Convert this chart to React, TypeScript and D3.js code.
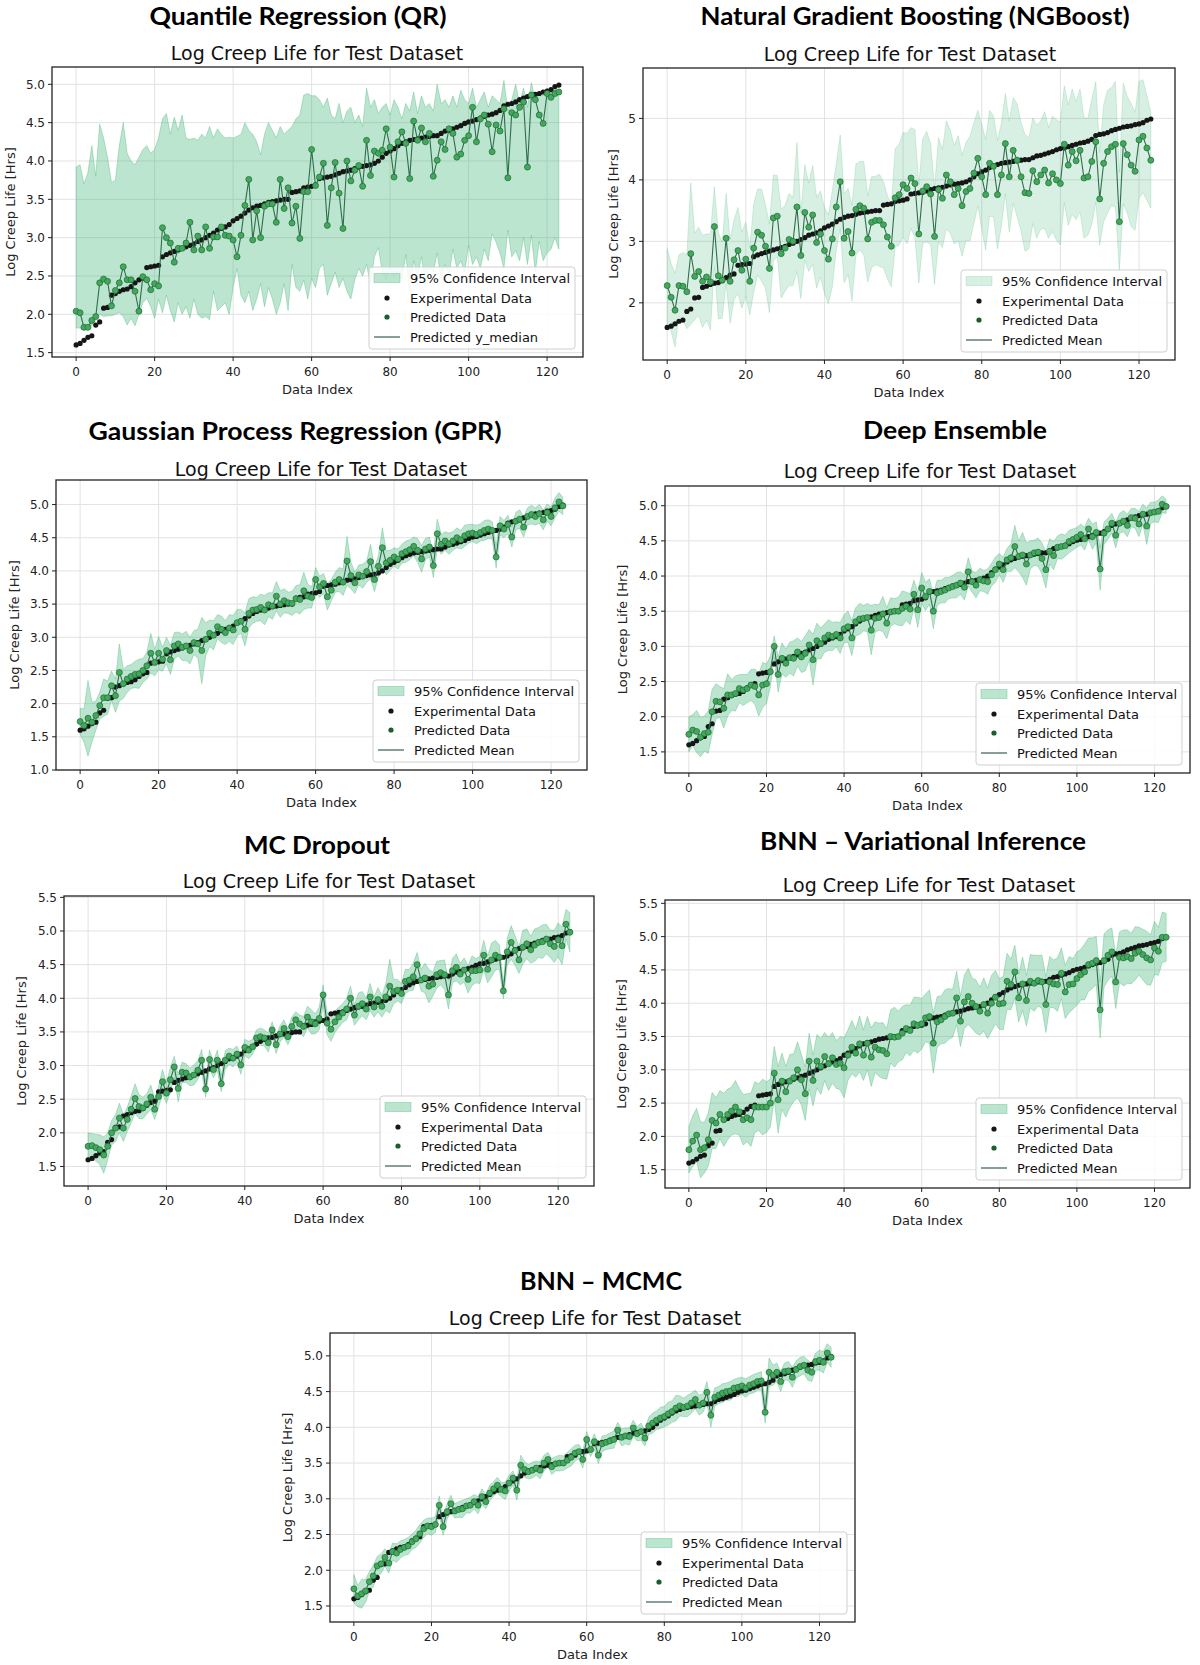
import React, { useEffect } from "react";
import * as d3 from "d3";

// ---------------- DATA ----------------
const DATA_INDEX = d3.range(124);
const X_TICKS = [0, 20, 40, 60, 80, 100, 120];

const EXPERIMENTAL = [
  1.60,1.62,1.66,1.70,1.72,1.86,1.90,2.08,2.09,2.25,
  2.27,2.30,2.32,2.33,2.36,2.41,2.45,2.47,2.61,2.62,
  2.63,2.64,2.75,2.78,2.80,2.82,2.84,2.86,2.88,2.90,
  2.92,2.95,2.97,3.00,3.03,3.06,3.10,3.12,3.14,3.17,
  3.22,3.25,3.28,3.32,3.36,3.39,3.41,3.42,3.44,3.46,
  3.47,3.48,3.49,3.50,3.50,3.59,3.60,3.61,3.65,3.66,
  3.67,3.69,3.77,3.78,3.79,3.80,3.82,3.84,3.86,3.87,
  3.88,3.90,3.92,3.93,3.94,3.95,3.97,4.00,4.05,4.10,
  4.13,4.16,4.20,4.23,4.25,4.27,4.28,4.29,4.30,4.31,
  4.32,4.33,4.33,4.36,4.39,4.40,4.42,4.44,4.46,4.49,
  4.51,4.52,4.54,4.56,4.58,4.60,4.61,4.63,4.66,4.72,
  4.74,4.75,4.77,4.80,4.82,4.84,4.86,4.87,4.88,4.90,
  4.91,4.93,4.97,4.99,
];

// Quantile Regression
const QR_PRED = [
  2.04,2.02,1.83,1.83,1.92,1.97,2.41,2.46,2.43,2.11,
  2.31,2.41,2.62,2.45,2.45,2.30,2.04,2.49,2.45,2.32,
  2.40,2.37,3.13,3.00,2.93,2.68,2.86,2.86,2.93,3.20,
  2.84,3.02,2.84,3.14,2.86,3.01,3.01,3.14,3.03,3.02,
  2.97,2.75,3.03,3.42,3.76,2.97,3.35,3.00,3.41,3.44,
  3.44,3.20,3.76,3.38,3.65,3.19,3.41,2.99,3.60,3.60,
  4.15,3.68,3.79,3.97,3.16,3.65,3.98,3.58,3.12,4.00,
  3.74,3.88,3.94,3.67,4.27,3.81,4.13,4.10,4.14,4.42,
  4.18,3.79,4.25,4.38,4.23,3.77,4.52,4.27,4.43,4.25,
  4.36,3.80,4.01,4.25,4.15,4.42,4.36,4.05,4.09,4.27,
  4.33,4.70,4.25,4.55,4.60,4.48,4.12,4.47,4.39,4.68,
  3.78,4.63,4.60,4.70,4.77,3.92,4.86,4.80,4.60,4.49,
  4.88,4.83,4.88,4.90,
];
const QR_UPPER = [
  3.92,3.95,3.70,3.85,4.20,3.80,4.48,4.30,4.05,3.72,
  3.75,4.20,4.50,4.10,4.00,3.95,4.05,4.15,4.20,4.10,
  4.15,4.30,4.55,4.62,4.35,4.57,4.40,4.60,4.30,4.28,
  4.30,4.27,4.35,4.30,4.45,4.30,4.42,4.35,4.30,4.31,
  4.30,4.32,4.35,4.50,4.40,4.35,4.25,4.08,4.35,4.50,
  4.40,4.30,4.45,4.35,4.40,4.45,4.55,4.60,4.86,4.88,
  4.85,4.85,4.80,4.70,4.82,4.60,4.55,4.75,4.50,4.65,
  4.70,4.50,4.60,4.45,4.95,4.70,4.80,4.62,4.70,4.75,
  4.60,4.80,4.70,4.55,4.75,4.65,4.90,4.62,4.85,4.70,
  4.75,4.65,5.00,4.75,4.80,4.70,4.85,4.70,4.92,4.80,
  4.75,4.95,4.70,4.80,4.90,4.70,4.85,4.80,4.75,5.05,
  4.65,4.80,5.00,4.75,4.95,4.70,5.02,4.80,4.90,4.85,
  4.95,4.90,4.95,4.90,
];
const QR_LOWER = [
  1.82,1.82,1.80,1.82,1.85,1.95,2.00,1.97,1.98,1.98,
  2.00,2.02,1.97,1.86,1.95,1.85,2.00,2.15,2.21,2.10,
  1.95,2.20,2.02,2.25,2.05,1.90,2.15,2.00,2.10,1.95,
  2.20,2.00,1.95,1.97,1.93,2.30,2.05,2.10,2.15,2.00,
  2.35,2.60,2.25,2.15,2.30,2.05,2.20,2.40,2.10,2.35,
  2.20,2.00,2.15,2.40,2.05,2.65,2.35,2.30,2.45,2.20,
  2.47,2.35,2.60,2.65,2.25,2.40,2.55,2.35,2.47,2.30,
  2.20,2.45,2.60,2.50,2.65,2.40,2.75,2.87,2.55,2.45,
  2.60,2.47,2.55,2.45,2.78,2.30,2.70,2.50,2.75,2.40,
  2.60,2.55,2.80,2.45,2.65,2.50,2.85,2.60,2.70,2.55,
  2.90,2.65,2.75,2.60,2.85,2.70,3.05,2.94,2.80,2.60,
  3.10,2.75,2.83,2.70,3.00,2.65,3.03,2.55,2.95,2.70,
  2.80,2.85,3.00,2.85,
];

// NGBoost
const NGB_PRED = [
  2.28,2.09,1.88,2.28,2.27,2.18,2.80,2.43,2.51,2.35,
  2.42,2.34,3.24,2.44,2.37,3.05,2.35,2.70,2.85,2.53,
  2.71,2.35,2.89,3.15,3.10,2.92,2.56,3.38,3.41,2.80,
  2.89,3.03,3.00,3.56,2.77,3.47,3.23,3.43,2.98,3.12,
  2.85,2.71,3.04,3.56,3.97,3.05,3.16,2.81,3.52,3.58,
  3.54,3.04,3.31,3.34,3.34,3.27,3.07,2.92,3.71,3.76,
  3.92,3.86,4.03,3.94,3.12,3.82,3.89,3.77,3.08,3.84,
  3.70,4.08,3.97,3.76,3.86,3.58,3.81,3.86,4.11,4.35,
  4.05,3.76,4.27,4.22,3.76,4.08,4.59,4.05,4.48,4.32,
  4.05,3.79,3.78,4.15,3.97,4.08,4.16,3.95,4.10,4.00,
  3.94,4.58,4.24,4.46,4.31,4.48,4.03,4.05,4.30,4.62,
  3.69,4.27,4.46,4.54,4.58,3.32,4.59,4.41,4.24,4.14,
  4.65,4.71,4.52,4.32,
];
const NGB_HALF_WIDTH = [
  0.60,0.55,0.60,0.50,0.55,0.60,1.15,0.70,0.72,0.75,
  0.70,0.78,0.65,0.70,0.62,0.73,0.68,0.65,0.70,0.62,
  0.60,0.55,0.72,0.70,0.75,0.68,0.72,0.70,0.66,0.72,
  0.70,0.75,0.72,1.05,0.70,0.78,0.72,0.80,0.74,0.70,
  0.70,0.72,0.78,0.70,0.76,0.72,0.70,0.78,0.74,0.72,
  0.76,0.70,0.74,0.72,0.75,0.70,0.68,0.66,0.80,0.82,
  0.85,0.90,0.82,0.88,0.80,0.85,0.90,0.82,0.78,0.85,
  0.80,0.88,0.84,0.80,0.86,0.82,0.80,0.85,0.82,0.78,
  0.85,0.90,0.86,0.82,0.88,0.84,0.82,0.90,0.86,0.92,
  0.88,0.95,0.90,0.86,0.92,0.88,0.95,0.90,0.94,0.98,
  1.00,0.95,0.98,1.02,0.96,1.00,0.98,0.95,1.02,0.98,
  0.75,0.95,1.00,0.96,1.02,0.80,0.98,0.95,1.00,0.96,
  0.95,0.92,0.85,0.78,
];

// Gaussian Process Regression
const GPR_PRED = [
  1.73,1.67,1.78,1.72,1.82,1.97,2.09,2.09,2.27,2.12,
  2.47,2.30,2.37,2.41,2.44,2.45,2.50,2.57,2.76,2.62,
  2.76,2.67,2.80,2.66,2.87,2.90,2.85,2.87,2.80,2.92,
  2.90,2.80,2.97,3.06,3.03,3.16,3.12,3.07,3.14,3.11,
  3.22,3.24,3.12,3.36,3.41,3.42,3.45,3.41,3.49,3.47,
  3.62,3.50,3.55,3.52,3.51,3.58,3.57,3.70,3.62,3.60,
  3.87,3.76,3.81,3.61,3.71,3.83,3.87,3.83,4.15,3.93,
  3.82,3.94,3.92,3.99,4.14,3.87,4.07,4.35,4.12,4.16,
  4.21,4.18,4.26,4.29,4.32,4.37,4.31,4.18,4.33,4.36,
  4.08,4.56,4.40,4.45,4.41,4.45,4.50,4.47,4.53,4.56,
  4.57,4.55,4.58,4.61,4.63,4.61,4.21,4.68,4.63,4.70,
  4.51,4.75,4.78,4.66,4.82,4.85,4.82,4.86,4.77,4.88,
  4.82,4.95,5.04,4.98,
];
const GPR_HALF_WIDTH = [
  0.20,0.25,0.57,0.30,0.22,0.20,0.28,0.25,0.22,0.25,
  0.43,0.22,0.20,0.18,0.20,0.22,0.18,0.20,0.30,0.20,
  0.25,0.18,0.20,0.22,0.20,0.18,0.20,0.22,0.20,0.18,
  0.22,0.50,0.25,0.20,0.22,0.18,0.20,0.18,0.20,0.22,
  0.20,0.18,0.25,0.22,0.20,0.18,0.20,0.22,0.18,0.20,
  0.22,0.20,0.18,0.16,0.18,0.20,0.22,0.28,0.18,0.16,
  0.18,0.16,0.15,0.20,0.16,0.15,0.18,0.20,0.37,0.20,
  0.16,0.15,0.18,0.16,0.26,0.18,0.16,0.30,0.18,0.15,
  0.14,0.15,0.14,0.16,0.15,0.14,0.18,0.20,0.16,0.15,
  0.18,0.22,0.15,0.14,0.16,0.14,0.15,0.14,0.16,0.14,
  0.13,0.14,0.13,0.15,0.14,0.13,0.17,0.14,0.13,0.14,
  0.15,0.13,0.14,0.15,0.13,0.14,0.13,0.14,0.15,0.13,
  0.14,0.15,0.14,0.13,
];

// Deep Ensemble
const DE_PRED = [
  1.75,1.81,1.79,1.71,1.76,1.78,2.07,2.22,2.21,2.12,
  2.31,2.31,2.33,2.40,2.38,2.40,2.45,2.43,2.31,2.45,
  2.47,2.64,3.00,2.60,2.83,2.76,2.84,2.83,2.92,2.85,
  2.90,3.02,2.81,3.08,3.04,3.12,3.16,3.14,3.17,3.12,
  3.25,3.28,3.12,3.35,3.39,3.40,3.41,3.23,3.40,3.41,
  3.46,3.33,3.49,3.50,3.50,3.54,3.57,3.53,3.74,3.52,
  3.83,3.71,3.78,3.50,3.76,3.78,3.80,3.83,3.85,3.87,
  3.90,3.84,4.06,3.92,3.87,3.95,3.93,3.92,4.02,4.09,
  4.17,4.09,4.23,4.26,4.42,4.28,4.30,4.17,4.30,4.33,
  4.34,4.25,4.09,4.35,4.29,4.41,4.42,4.43,4.49,4.52,
  4.55,4.59,4.53,4.67,4.56,4.62,4.10,4.61,4.67,4.75,
  4.58,4.75,4.78,4.72,4.83,4.82,4.74,4.88,4.71,4.90,
  4.91,4.92,5.02,4.99,
];
const DE_HALF_WIDTH = [
  0.25,0.22,0.30,0.28,0.25,0.30,0.32,0.25,0.22,0.28,
  0.30,0.22,0.25,0.20,0.22,0.20,0.22,0.25,0.30,0.32,
  0.28,0.22,0.15,0.25,0.22,0.20,0.22,0.25,0.20,0.22,
  0.25,0.22,0.36,0.25,0.22,0.20,0.22,0.20,0.18,0.22,
  0.20,0.22,0.25,0.20,0.22,0.18,0.20,0.35,0.20,0.18,
  0.25,0.22,0.20,0.18,0.20,0.25,0.20,0.22,0.20,0.25,
  0.22,0.20,0.18,0.25,0.18,0.16,0.18,0.15,0.16,0.18,
  0.16,0.18,0.20,0.15,0.18,0.16,0.15,0.18,0.16,0.18,
  0.15,0.18,0.16,0.20,0.30,0.22,0.32,0.30,0.20,0.18,
  0.20,0.22,0.26,0.18,0.20,0.16,0.18,0.15,0.16,0.15,
  0.14,0.15,0.16,0.15,0.18,0.15,0.30,0.16,0.15,0.14,
  0.18,0.14,0.15,0.16,0.13,0.14,0.18,0.14,0.26,0.15,
  0.14,0.16,0.12,0.10,
];

// MC Dropout
const MC_PRED = [
  1.80,1.81,1.78,1.75,1.67,1.80,2.00,2.07,2.22,2.07,
  2.20,2.35,2.51,2.39,2.37,2.43,2.53,2.35,2.54,2.76,
  2.59,2.79,2.98,2.66,2.90,2.89,2.83,2.86,2.93,3.08,
  2.65,3.09,2.94,3.08,2.73,3.08,3.14,3.11,3.17,3.01,
  3.27,3.23,3.28,3.41,3.43,3.41,3.34,3.53,3.31,3.47,
  3.55,3.43,3.58,3.68,3.62,3.58,3.72,3.65,3.62,3.70,
  4.05,3.63,3.54,3.65,3.72,3.78,3.84,4.00,3.75,3.88,
  3.92,3.84,4.02,3.87,3.98,3.88,4.02,4.18,4.10,4.12,
  4.07,4.25,4.27,4.32,4.50,4.27,4.30,4.18,4.21,4.35,
  4.38,4.35,4.05,4.41,4.46,4.36,4.42,4.28,4.41,4.41,
  4.42,4.64,4.43,4.57,4.64,4.61,4.11,4.69,4.83,4.71,
  4.57,4.76,4.81,4.72,4.79,4.83,4.84,4.88,4.81,4.77,
  4.87,4.78,5.10,4.98,
];
const MC_HALF_WIDTH = [
  0.20,0.18,0.20,0.22,0.27,0.20,0.18,0.20,0.22,0.20,
  0.18,0.20,0.22,0.18,0.16,0.15,0.18,0.15,0.16,0.18,
  0.15,0.18,0.16,0.20,0.15,0.14,0.13,0.15,0.14,0.16,
  0.12,0.14,0.12,0.15,0.12,0.14,0.12,0.13,0.12,0.14,
  0.12,0.13,0.11,0.12,0.13,0.12,0.14,0.12,0.13,0.12,
  0.13,0.12,0.14,0.12,0.13,0.15,0.16,0.18,0.15,0.17,
  0.15,0.17,0.18,0.16,0.15,0.14,0.16,0.18,0.15,0.20,
  0.18,0.16,0.20,0.15,0.18,0.16,0.20,0.40,0.18,0.16,
  0.15,0.18,0.16,0.20,0.18,0.16,0.22,0.25,0.18,0.20,
  0.18,0.22,0.21,0.18,0.20,0.16,0.18,0.20,0.22,0.18,
  0.20,0.22,0.20,0.25,0.22,0.18,0.12,0.20,0.25,0.22,
  0.20,0.25,0.22,0.20,0.24,0.22,0.25,0.22,0.20,0.24,
  0.25,0.28,0.22,0.29,
];

// BNN - Variational Inference
const VI_PRED = [
  1.80,1.93,2.02,1.80,1.83,1.95,2.24,2.20,2.33,2.25,
  2.33,2.38,2.44,2.37,2.25,2.28,2.25,2.44,2.44,2.44,
  2.44,2.50,2.95,2.55,2.83,2.67,2.83,2.88,3.00,2.85,
  2.64,3.13,2.84,3.13,3.05,3.20,3.09,3.18,3.08,3.10,
  3.03,3.22,3.34,3.25,3.39,3.22,3.40,3.19,3.34,3.30,
  3.29,3.24,3.50,3.49,3.50,3.55,3.62,3.59,3.69,3.67,
  3.69,3.78,3.80,3.40,3.72,3.75,3.80,3.84,3.85,4.08,
  3.73,4.02,4.10,4.00,3.95,3.88,3.98,3.85,4.00,4.09,
  3.99,4.00,4.33,4.28,4.47,4.08,4.29,4.04,4.33,4.30,
  4.34,4.32,3.98,4.32,4.29,4.28,4.45,4.17,4.28,4.29,
  4.37,4.43,4.47,4.58,4.60,4.64,3.90,4.64,4.72,4.77,
  4.32,4.69,4.68,4.70,4.67,4.75,4.78,4.73,4.68,4.65,
  4.83,4.78,4.99,4.99,
];
const VI_HALF_WIDTH = [
  0.35,0.38,0.40,0.42,0.38,0.40,0.42,0.38,0.36,0.40,
  0.38,0.36,0.40,0.35,0.38,0.36,0.40,0.38,0.35,0.42,
  0.38,0.36,0.40,0.50,0.42,0.38,0.40,0.36,0.42,0.38,
  0.40,0.42,0.38,0.40,0.42,0.36,0.40,0.38,0.36,0.40,
  0.45,0.38,0.40,0.36,0.42,0.38,0.40,0.44,0.38,0.40,
  0.42,0.38,0.40,0.45,0.38,0.40,0.36,0.38,0.40,0.42,
  0.38,0.36,0.40,0.45,0.38,0.36,0.40,0.38,0.36,0.40,
  0.38,0.40,0.42,0.38,0.40,0.36,0.40,0.38,0.42,0.40,
  0.38,0.40,0.42,0.38,0.40,0.36,0.40,0.38,0.40,0.42,
  0.38,0.40,0.42,0.38,0.36,0.40,0.38,0.40,0.42,0.38,
  0.40,0.38,0.42,0.40,0.38,0.36,0.42,0.40,0.38,0.36,
  0.40,0.38,0.42,0.40,0.38,0.40,0.36,0.38,0.40,0.38,
  0.40,0.36,0.38,0.36,
];

// BNN - MCMC
const MCMC_PRED = [
  1.74,1.64,1.67,1.71,1.84,1.92,2.06,2.09,2.18,2.10,
  2.26,2.24,2.29,2.32,2.34,2.40,2.44,2.51,2.58,2.62,
  2.61,2.64,2.91,2.61,2.82,2.93,2.83,2.85,2.86,2.90,
  2.91,2.96,2.91,3.03,2.96,3.08,3.14,3.19,3.13,3.11,
  3.22,3.29,3.12,3.47,3.41,3.38,3.40,3.43,3.40,3.50,
  3.55,3.45,3.49,3.50,3.50,3.54,3.58,3.64,3.66,3.55,
  3.83,3.69,3.80,3.61,3.77,3.79,3.81,3.83,3.96,3.86,
  3.88,3.87,3.99,3.91,3.94,3.85,4.02,4.06,4.10,4.13,
  4.15,4.19,4.22,4.27,4.30,4.28,4.30,4.34,4.39,4.31,
  4.34,4.49,4.17,4.42,4.45,4.48,4.50,4.51,4.55,4.56,
  4.58,4.55,4.59,4.61,4.64,4.65,4.21,4.77,4.73,4.77,
  4.64,4.78,4.79,4.70,4.81,4.85,4.87,4.80,4.77,4.92,
  4.94,4.91,5.04,4.98,
];
const MCMC_HALF_WIDTH = [
  0.20,0.15,0.20,0.16,0.14,0.15,0.13,0.14,0.12,0.14,
  0.12,0.13,0.12,0.11,0.12,0.11,0.12,0.13,0.12,0.11,
  0.12,0.11,0.13,0.12,0.11,0.12,0.10,0.11,0.12,0.10,
  0.11,0.10,0.12,0.11,0.10,0.11,0.10,0.11,0.10,0.12,
  0.11,0.10,0.14,0.14,0.11,0.10,0.11,0.10,0.12,0.11,
  0.10,0.11,0.10,0.11,0.10,0.11,0.12,0.11,0.10,0.12,
  0.11,0.10,0.11,0.12,0.11,0.10,0.11,0.12,0.11,0.12,
  0.11,0.12,0.11,0.10,0.12,0.11,0.12,0.14,0.13,0.15,
  0.14,0.16,0.15,0.18,0.14,0.13,0.15,0.14,0.13,0.14,
  0.13,0.15,0.17,0.13,0.12,0.13,0.12,0.13,0.12,0.13,
  0.12,0.13,0.12,0.13,0.12,0.13,0.15,0.20,0.14,0.13,
  0.14,0.12,0.13,0.14,0.12,0.13,0.12,0.14,0.13,0.12,
  0.14,0.15,0.13,0.14,
];

const TICKS_HALF_TO_50 = [1.5, 2.0, 2.5, 3.0, 3.5, 4.0, 4.5, 5.0];
const TICKS_ONE_TO_50 = [1.0, 1.5, 2.0, 2.5, 3.0, 3.5, 4.0, 4.5, 5.0];
const TICKS_HALF_TO_55 = [1.5, 2.0, 2.5, 3.0, 3.5, 4.0, 4.5, 5.0, 5.5];
const TICKS_INT = [2, 3, 4, 5];

const SUBTITLE = "Log Creep Life for Test Dataset";
const LEGEND_LABELS = ["95% Confidence Interval", "Experimental Data", "Predicted Data"];

// ---------------- STYLE ----------------
const BAND_COLOR = "#3cb371";
const PRED_FILL = "#44a85c";
const PRED_EDGE = "#1d6a37";
const LINE_COLOR = "#2f6e4c";
const EXP_COLOR = "#161616";
const SANS = "'DejaVu Sans', sans-serif";
const TITLE_FONT = "Lato, 'Liberation Sans', sans-serif";
const X_DOMAIN: [number, number] = [-6.15, 129.15];

type Box = { l: number; r: number; t: number; b: number };
type PanelCfg = {
  id: string;
  title: string;
  titleX: number;
  titleY: number;
  titleW: number;
  subX: number;
  subY: number;
  box: Box;
  yDomain: [number, number];
  yTicks: number[];
  yFmt: (v: number) => string;
  pred: number[];
  lower: number[];
  upper: number[];
  bandOpacity: number;
  lineLabel: string;
  yLabelGap: number;
};

const fmt1 = d3.format(".1f");
const fmt0 = d3.format("d");
const lowerOf = (p: number[], h: number[]) => p.map((v, i) => v - h[i]);
const upperOf = (p: number[], h: number[]) => p.map((v, i) => v + h[i]);

const PANELS: PanelCfg[] = [
  {
    id: "qr", title: "Quantile Regression (QR)", titleX: 298, titleY: 25, titleW: 297,
    subX: 317, subY: 60, box: { l: 52, r: 583, t: 67, b: 357 },
    yDomain: [1.443, 5.226], yTicks: TICKS_HALF_TO_50, yFmt: fmt1,
    pred: QR_PRED, lower: QR_LOWER, upper: QR_UPPER, bandOpacity: 0.34,
    lineLabel: "Predicted y_median", yLabelGap: 42,
  },
  {
    id: "ngb", title: "Natural Gradient Boosting (NGBoost)", titleX: 915, titleY: 25, titleW: 429,
    subX: 910, subY: 61, box: { l: 643, r: 1175, t: 68, b: 360 },
    yDomain: [1.07, 5.82], yTicks: TICKS_INT, yFmt: fmt0,
    pred: NGB_PRED, lower: lowerOf(NGB_PRED, NGB_HALF_WIDTH), upper: upperOf(NGB_PRED, NGB_HALF_WIDTH),
    bandOpacity: 0.2, lineLabel: "Predicted Mean", yLabelGap: 30,
  },
  {
    id: "gpr", title: "Gaussian Process Regression (GPR)", titleX: 295, titleY: 440, titleW: 413,
    subX: 321, subY: 476, box: { l: 56, r: 587, t: 480, b: 770 },
    yDomain: [1.0, 5.37], yTicks: TICKS_ONE_TO_50, yFmt: fmt1,
    pred: GPR_PRED, lower: lowerOf(GPR_PRED, GPR_HALF_WIDTH), upper: upperOf(GPR_PRED, GPR_HALF_WIDTH),
    bandOpacity: 0.34, lineLabel: "Predicted Mean", yLabelGap: 42,
  },
  {
    id: "de", title: "Deep Ensemble", titleX: 955, titleY: 439, titleW: 184,
    subX: 930, subY: 478, box: { l: 665, r: 1190, t: 486, b: 773 },
    yDomain: [1.2, 5.28], yTicks: TICKS_HALF_TO_50, yFmt: fmt1,
    pred: DE_PRED, lower: lowerOf(DE_PRED, DE_HALF_WIDTH), upper: upperOf(DE_PRED, DE_HALF_WIDTH),
    bandOpacity: 0.34, lineLabel: "Predicted Mean", yLabelGap: 43,
  },
  {
    id: "mc", title: "MC Dropout", titleX: 317, titleY: 854, titleW: 146,
    subX: 329, subY: 888, box: { l: 64, r: 594, t: 896, b: 1186 },
    yDomain: [1.21, 5.52], yTicks: TICKS_HALF_TO_55, yFmt: fmt1,
    pred: MC_PRED, lower: lowerOf(MC_PRED, MC_HALF_WIDTH), upper: upperOf(MC_PRED, MC_HALF_WIDTH),
    bandOpacity: 0.34, lineLabel: "Predicted Mean", yLabelGap: 43,
  },
  {
    id: "vi", title: "BNN \u2013 Variational Inference", titleX: 923, titleY: 850, titleW: 326,
    subX: 929, subY: 892, box: { l: 665, r: 1190, t: 900, b: 1188 },
    yDomain: [1.225, 5.55], yTicks: TICKS_HALF_TO_55, yFmt: fmt1,
    pred: VI_PRED, lower: lowerOf(VI_PRED, VI_HALF_WIDTH), upper: upperOf(VI_PRED, VI_HALF_WIDTH),
    bandOpacity: 0.34, lineLabel: "Predicted Mean", yLabelGap: 44,
  },
  {
    id: "mcmc", title: "BNN \u2013 MCMC", titleX: 601, titleY: 1290, titleW: 162,
    subX: 595, subY: 1325, box: { l: 330, r: 855, t: 1333, b: 1622 },
    yDomain: [1.276, 5.32], yTicks: TICKS_HALF_TO_50, yFmt: fmt1,
    pred: MCMC_PRED, lower: lowerOf(MCMC_PRED, MCMC_HALF_WIDTH), upper: upperOf(MCMC_PRED, MCMC_HALF_WIDTH),
    bandOpacity: 0.34, lineLabel: "Predicted Mean", yLabelGap: 43,
  },
];

function Panel({ cfg }: { cfg: PanelCfg }) {
  const { box } = cfg;
  const x = d3.scaleLinear().domain(X_DOMAIN).range([box.l, box.r]);
  const y = d3.scaleLinear().domain(cfg.yDomain).range([box.b, box.t]);
  const area = d3
    .area<number>()
    .x((d) => x(d))
    .y0((d) => y(cfg.lower[d]))
    .y1((d) => y(cfg.upper[d]));
  const line = d3
    .line<number>()
    .x((d) => x(d))
    .y((d) => y(cfg.pred[d]));

  const legW = 206;
  const legH = 82;
  const legL = box.r - 8 - legW;
  const legT = box.b - 8 - legH;
  const rows = [legT + 11, legT + 31, legT + 50, legT + 70];
  const labels = [...LEGEND_LABELS, cfg.lineLabel];
  const clipId = `clip-${cfg.id}`;

  return (
    <g>
      <defs>
        <clipPath id={clipId}>
          <rect x={box.l} y={box.t} width={box.r - box.l} height={box.b - box.t} />
        </clipPath>
      </defs>
      <text
        x={cfg.titleX}
        y={cfg.titleY}
        textAnchor="middle"
        fontFamily={TITLE_FONT}
        fontWeight={700}
        fontSize={24}
        textLength={cfg.titleW}
        lengthAdjust="spacingAndGlyphs"
        fill="#000"
      >
        {cfg.title}
      </text>
      <text x={cfg.subX} y={cfg.subY} textAnchor="middle" fontFamily={SANS} fontSize={19} fill="#111">
        {SUBTITLE}
      </text>
      <rect x={box.l} y={box.t} width={box.r - box.l} height={box.b - box.t} fill="#fff" />
      {/* grid */}
      <g stroke="#e2e2e2" strokeWidth={1}>
        {X_TICKS.map((t) => (
          <line key={`gx${t}`} x1={x(t)} x2={x(t)} y1={box.t} y2={box.b} />
        ))}
        {cfg.yTicks.map((t) => (
          <line key={`gy${t}`} x1={box.l} x2={box.r} y1={y(t)} y2={y(t)} />
        ))}
      </g>
      <g clipPath={`url(#${clipId})`}>
        <path
          d={area(DATA_INDEX) || ""}
          fill={BAND_COLOR}
          fillOpacity={cfg.bandOpacity}
          stroke={BAND_COLOR}
          strokeOpacity={cfg.bandOpacity}
          strokeWidth={1}
        />
        {DATA_INDEX.map((i) => (
          <circle key={`e${i}`} cx={x(i)} cy={y(EXPERIMENTAL[i])} r={2.6} fill={EXP_COLOR} />
        ))}
        <path d={line(DATA_INDEX) || ""} fill="none" stroke={LINE_COLOR} strokeWidth={1.1} />
        {DATA_INDEX.map((i) => (
          <circle
            key={`p${i}`}
            cx={x(i)}
            cy={y(cfg.pred[i])}
            r={3}
            fill={PRED_FILL}
            stroke={PRED_EDGE}
            strokeWidth={0.7}
          />
        ))}
      </g>
      <rect
        x={box.l}
        y={box.t}
        width={box.r - box.l}
        height={box.b - box.t}
        fill="none"
        stroke="#222"
        strokeWidth={1.3}
      />
      {/* x axis */}
      {X_TICKS.map((t) => (
        <g key={`xt${t}`}>
          <line x1={x(t)} x2={x(t)} y1={box.b} y2={box.b + 4} stroke="#222" strokeWidth={1} />
          <text x={x(t)} y={box.b + 19} textAnchor="middle" fontFamily={SANS} fontSize={12} fill="#222">
            {t}
          </text>
        </g>
      ))}
      <text
        x={(box.l + box.r) / 2}
        y={box.b + 37}
        textAnchor="middle"
        fontFamily={SANS}
        fontSize={13}
        fill="#222"
      >
        Data Index
      </text>
      {/* y axis */}
      {cfg.yTicks.map((t) => (
        <g key={`yt${t}`}>
          <line x1={box.l - 4} x2={box.l} y1={y(t)} y2={y(t)} stroke="#222" strokeWidth={1} />
          <text x={box.l - 7} y={y(t) + 4.3} textAnchor="end" fontFamily={SANS} fontSize={12} fill="#222">
            {cfg.yFmt(t)}
          </text>
        </g>
      ))}
      <text
        transform={`translate(${box.l - cfg.yLabelGap},${(box.t + box.b) / 2}) rotate(-90)`}
        textAnchor="middle"
        dominantBaseline="central"
        fontFamily={SANS}
        fontSize={13}
        fill="#222"
      >
        Log Creep Life [Hrs]
      </text>
      {/* legend */}
      <rect
        x={legL}
        y={legT}
        width={legW}
        height={legH}
        rx={3}
        fill="#fff"
        fillOpacity={0.85}
        stroke="#cfcfcf"
        strokeWidth={1}
      />
      <rect
        x={legL + 5}
        y={rows[0] - 4.5}
        width={26}
        height={9}
        fill={BAND_COLOR}
        fillOpacity={cfg.bandOpacity}
        stroke={BAND_COLOR}
        strokeOpacity={cfg.bandOpacity}
      />
      <circle cx={legL + 18} cy={rows[1]} r={2.6} fill={EXP_COLOR} />
      <circle cx={legL + 18} cy={rows[2]} r={2.6} fill="#1b5e2a" />
      <line x1={legL + 5} x2={legL + 31} y1={rows[3]} y2={rows[3]} stroke="#4b6b5a" strokeWidth={1.3} />
      {labels.map((lab, k) => (
        <text key={lab} x={legL + 41} y={rows[k] + 4.6} fontFamily={SANS} fontSize={13} fill="#111">
          {lab}
        </text>
      ))}
    </g>
  );
}

export default function App() {
  useEffect(() => {
    document.body.style.margin = "0";
  }, []);
  return (
    <svg
      width={1200}
      height={1665}
      viewBox="0 0 1200 1665"
      style={{ display: "block", background: "#fff" }}
      xmlns="http://www.w3.org/2000/svg"
    >
      <rect x={0} y={0} width={1200} height={1665} fill="#fff" />
      {PANELS.map((p) => (
        <Panel key={p.id} cfg={p} />
      ))}
    </svg>
  );
}
